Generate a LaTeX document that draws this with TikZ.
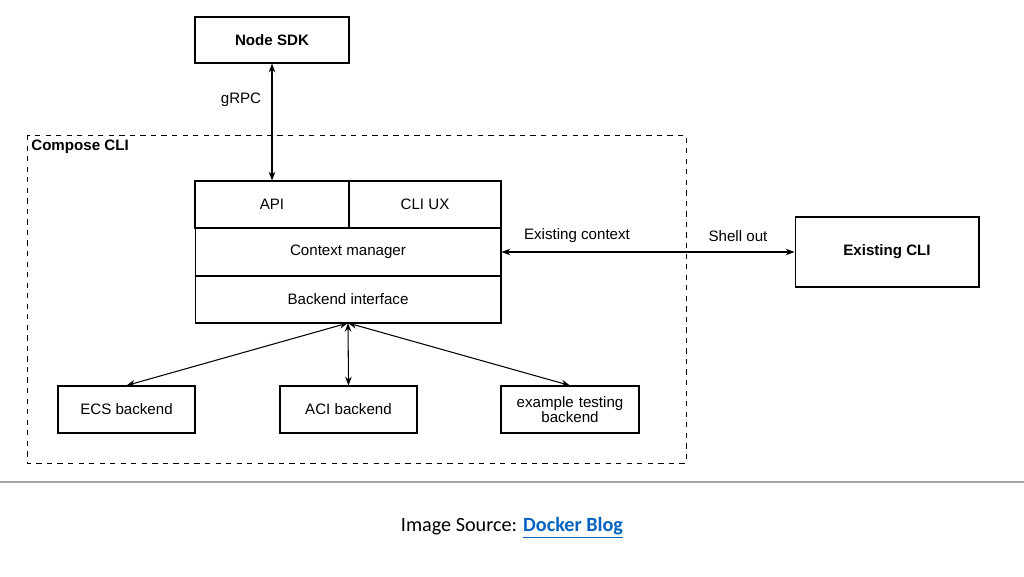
\documentclass[tikz,border=0pt]{standalone}
\usepackage{fontspec}
\setmainfont{Liberation Sans}
\newfontfamily\capfont{Carlito}
\usetikzlibrary{arrows.meta}
\begin{document}
\begin{tikzpicture}[x=0.02cm,y=-0.02cm,
  box/.style={draw,line width=0.6pt,inner sep=0pt,font=\fontsize{8.6}{10}\selectfont,align=center},
  bbox/.style={box,font=\fontsize{8.6}{10}\selectfont\bfseries},
  lbl/.style={font=\fontsize{8.6}{10}\selectfont},
  arr/.style={{Stealth[length=5pt]}-{Stealth[length=5pt]},line width=0.6pt}]
\useasboundingbox (0,0) rectangle (1024,576);
% dashed container
\draw[dashed,line width=0.5pt] (27,135) rectangle (686,463);
\node[anchor=north west,font=\fontsize{8.6}{10}\selectfont\bfseries,inner sep=0pt] (cc) at (31,140) {Compose CLI};
% Node SDK
\node[bbox,minimum width=3.08cm,minimum height=0.92cm] (sdk) at (272,40) {Node SDK};
% main block
\node[box,minimum width=3.08cm,minimum height=0.94cm] (api) at (272,204.5) {API};
\node[box,minimum width=3.04cm,minimum height=0.94cm] (ux) at (425,204.5) {CLI UX};
\node[box,minimum width=6.12cm,minimum height=0.96cm] (ctx) at (348,252) {Context manager};
\node[box,minimum width=6.12cm,minimum height=0.94cm] (be) at (348,299.5) {Backend interface};
% Existing CLI
\node[bbox,minimum width=3.68cm,minimum height=1.4cm] (ext) at (887,252) {Existing CLI};
% backends
\node[box,minimum width=2.74cm,minimum height=0.94cm] (ecs) at (126.5,409.5) {ECS backend};
\node[box,minimum width=2.74cm,minimum height=0.94cm] (aci) at (348.5,409.5) {ACI backend};
\node[box,minimum width=2.76cm,minimum height=0.94cm,text width=2.6cm] (ex) at (570,409.5) {example testing\\[-1pt]backend};
% connectors
\draw[arr] (sdk.south) -- (api.north);
\node[lbl] (grpc) at (241,100) {gRPC};
\draw[arr] (ctx.east) -- (ext.west);
\node[lbl] (ectx) at (577,236) {Existing context};
\node[lbl] (sh) at (738,236) {Shell out};
\coordinate (hub) at (348,323);
\draw[arr] (hub) -- (ecs.north);
\draw[arr] (hub) -- (aci.north);
\draw[arr] (hub) -- (ex.north);
% footer
\draw[gray!70,line width=0.6pt] (0,482) -- (1024,482);
\node[font=\capfont\fontsize{11.5}{13}\selectfont] (src) at (512,528) {Image Source: \textcolor[HTML]{0563C1}{\textbf{\underline{Docker Blog}}}};
\end{tikzpicture}
\end{document}
